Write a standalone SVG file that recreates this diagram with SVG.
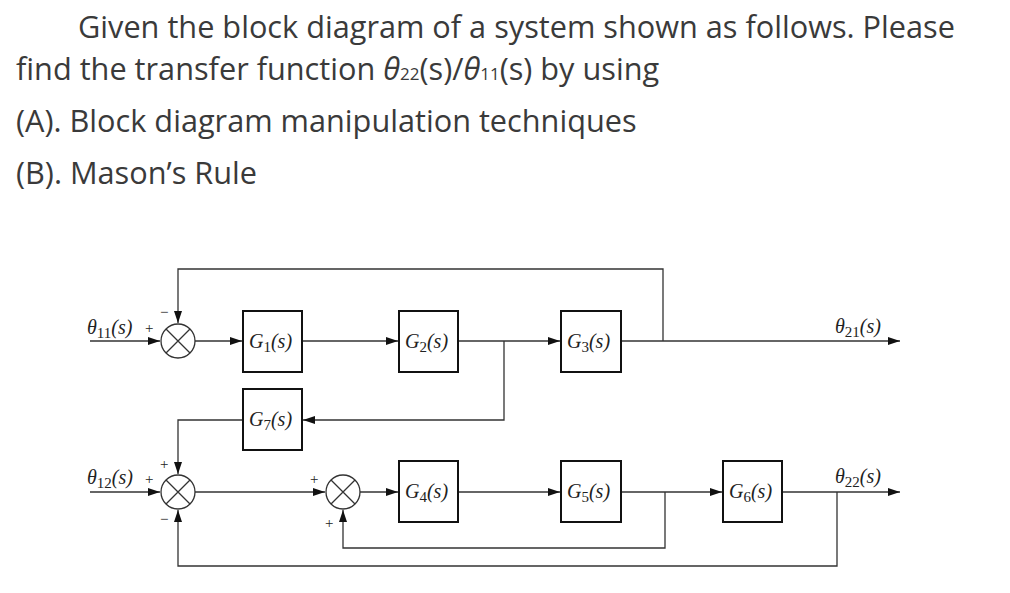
<svg xmlns="http://www.w3.org/2000/svg" width="1010" height="593" viewBox="0 0 1010 593">
<style>
.t{font-family:"Open Sans","Noto Sans",sans-serif;font-size:30.7px;fill:#3a3a3a}
.b{fill:#fff;stroke:#111;stroke-width:2}
.l{fill:none;stroke:#333;stroke-width:1.3}
.g{font-family:"Liberation Serif",serif;font-style:italic;font-size:20px;fill:#222}
.s{font-family:"Liberation Serif",serif;font-size:15px;fill:#222}
.sum{fill:#fff;stroke:#333;stroke-width:1.3}
</style>
<defs><marker id="a" markerWidth="12" markerHeight="8" refX="12" refY="4" orient="auto" markerUnits="userSpaceOnUse"><path d="M0,0L12,4L0,8z" fill="#111"/></marker></defs>
<rect width="1010" height="593" fill="#fff"/>
<text class="t" x="78" y="38">Given the block diagram of a system shown as follows. Please</text>
<text class="t" x="16" y="80">find the transfer function <tspan font-style="italic">θ</tspan><tspan font-size="17">22</tspan>(s)/<tspan font-style="italic">θ</tspan><tspan font-size="17">11</tspan>(s) by using</text>
<text class="t" x="16" y="132">(A). Block diagram manipulation techniques</text>
<text class="t" x="16" y="184">(B). Mason’s Rule</text>
<g id="connectors">
<path class="l" d="M90,341H160" marker-end="url(#a)"/>
<path class="l" d="M195,341H242" marker-end="url(#a)"/>
<path class="l" d="M302,341H398" marker-end="url(#a)"/>
<path class="l" d="M458,341H560" marker-end="url(#a)"/>
<path class="l" d="M621,341H900" marker-end="url(#a)"/>
<path class="l" d="M663,341V269H178V323" marker-end="url(#a)"/>
<path class="l" d="M504,341V420H303" marker-end="url(#a)"/>
<path class="l" d="M243,420H178V474" marker-end="url(#a)"/>
<path class="l" d="M90,492H160" marker-end="url(#a)"/>
<path class="l" d="M195,492H325" marker-end="url(#a)"/>
<path class="l" d="M360,492H398" marker-end="url(#a)"/>
<path class="l" d="M458,492H560" marker-end="url(#a)"/>
<path class="l" d="M621,492H722" marker-end="url(#a)"/>
<path class="l" d="M782,492H900" marker-end="url(#a)"/>
<path class="l" d="M665,492V548H343V510" marker-end="url(#a)"/>
<path class="l" d="M837,492V566H178V510" marker-end="url(#a)"/>
</g>
<g id="sum1"><circle class="sum" cx="178" cy="341" r="17"/><path class="l" d="M166,329L190,353M190,329L166,353"/></g>
<g id="sum2"><circle class="sum" cx="178" cy="492" r="17"/><path class="l" d="M166,480L190,504M190,480L166,504"/></g>
<g id="sum3"><circle class="sum" cx="343" cy="492" r="17"/><path class="l" d="M331,480L355,504M355,480L331,504"/></g>
<g id="G1"><rect class="b" x="243" y="311" width="59" height="61"/><text class="g" x="249" y="348">G<tspan class="s" font-style="normal" dy="4">1</tspan><tspan dy="-4">(s)</tspan></text></g>
<g id="G2"><rect class="b" x="399" y="311" width="59" height="61"/><text class="g" x="405" y="348">G<tspan class="s" font-style="normal" dy="4">2</tspan><tspan dy="-4">(s)</tspan></text></g>
<g id="G3"><rect class="b" x="561" y="311" width="60" height="61"/><text class="g" x="567" y="348">G<tspan class="s" font-style="normal" dy="4">3</tspan><tspan dy="-4">(s)</tspan></text></g>
<g id="G7"><rect class="b" x="243" y="389" width="59" height="61"/><text class="g" x="249" y="426">G<tspan class="s" font-style="normal" dy="4">7</tspan><tspan dy="-4">(s)</tspan></text></g>
<g id="G4"><rect class="b" x="399" y="461" width="59" height="61"/><text class="g" x="405" y="498">G<tspan class="s" font-style="normal" dy="4">4</tspan><tspan dy="-4">(s)</tspan></text></g>
<g id="G5"><rect class="b" x="561" y="461" width="60" height="61"/><text class="g" x="567" y="498">G<tspan class="s" font-style="normal" dy="4">5</tspan><tspan dy="-4">(s)</tspan></text></g>
<g id="G6"><rect class="b" x="723" y="461" width="59" height="61"/><text class="g" x="729" y="498">G<tspan class="s" font-style="normal" dy="4">6</tspan><tspan dy="-4">(s)</tspan></text></g>
<g id="labels">
<text class="g" x="87" y="334">θ<tspan class="s" font-style="normal" dy="4">11</tspan><tspan dy="-4">(s)</tspan></text>
<text class="g" x="87" y="484">θ<tspan class="s" font-style="normal" dy="4">12</tspan><tspan dy="-4">(s)</tspan></text>
<text class="g" x="835" y="333">θ<tspan class="s" font-style="normal" dy="4">21</tspan><tspan dy="-4">(s)</tspan></text>
<text class="g" x="835" y="483">θ<tspan class="s" font-style="normal" dy="4">22</tspan><tspan dy="-4">(s)</tspan></text>
<text class="s" x="145" y="333">+</text><text class="s" x="160" y="317">−</text>
<text class="s" x="145" y="484">+</text><text class="s" x="160" y="469">+</text><text class="s" x="160" y="524">−</text>
<text class="s" x="310" y="484">+</text><text class="s" x="325" y="528">+</text>
</g>
</svg>
